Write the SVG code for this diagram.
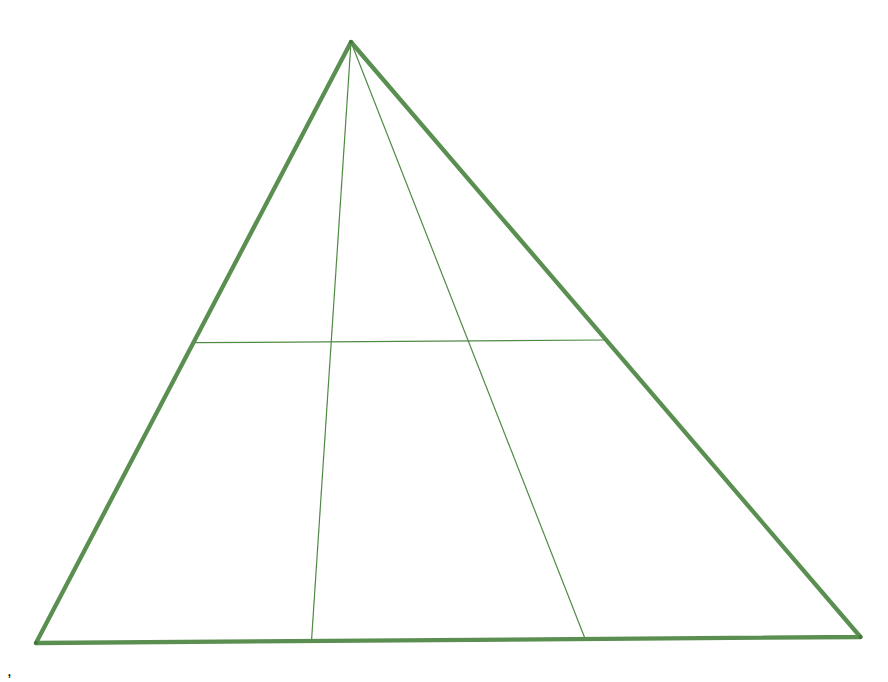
<svg xmlns="http://www.w3.org/2000/svg" width="888" height="682" viewBox="0 0 888 682">
<style>
.thick{stroke:#5b8f51;stroke-width:4.3;fill:none;stroke-linecap:round;stroke-linejoin:round}
.thin{stroke:#4f8a44;stroke-width:1.2;fill:none}
.pt{fill:#3f7a35}
.lbl{font-family:"Liberation Sans",Arial,sans-serif;font-size:17px;fill:#000}
</style>
<rect width="888" height="682" fill="#fff"/>
<g id="connectors">
<line class="thin" x1="351" y1="42" x2="311.5" y2="641"/>
<line class="thin" x1="351" y1="42" x2="585" y2="638.5"/>
<line class="thin" x1="195" y1="342.7" x2="604.5" y2="340"/>
<polygon class="thick" points="351,42 36,643 860.5,637"/>
</g>
<g id="A"><circle class="pt" cx="351" cy="42" r="2"/></g>
<g id="B"><circle class="pt" cx="36" cy="643" r="2"/></g>
<g id="C"><circle class="pt" cx="860.5" cy="637" r="2"/></g>
<text class="lbl" x="7" y="676">,</text>
</svg>
